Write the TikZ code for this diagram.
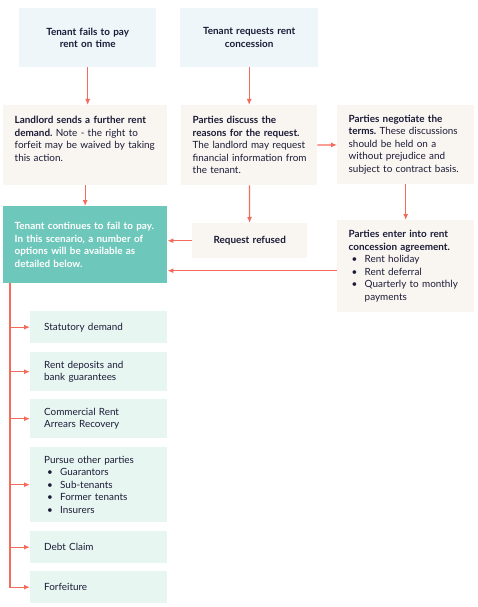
\documentclass[tikz,border=0pt]{standalone}
\usepackage{fontspec}
\setmainfont{Lato}
\usetikzlibrary{arrows.meta}
\definecolor{ink}{HTML}{1B1B36}
\definecolor{skyfill}{HTML}{EEF6FA}
\definecolor{creamfill}{HTML}{F9F6F1}
\definecolor{mintfill}{HTML}{E8F6F2}
\definecolor{tealfill}{HTML}{6DC7BA}
\definecolor{coral}{HTML}{F46A5B}
\newcommand{\itm}[1]{\makebox[16pt][l]{\hspace{3pt}\textbullet}#1}
\frenchspacing

\begin{document}
\begin{tikzpicture}[x=1pt,y=-1pt,font=\fontsize{9.9}{12.5}\selectfont,text=ink]
\tikzstyle{box}=[rectangle,anchor=north west,inner xsep=11.5pt,inner ysep=0pt,align=left]
\tikzstyle{start box}=[box,fill=skyfill,align=center,font=\fontsize{9.9}{12.5}\selectfont\bfseries]
\tikzstyle{step box}=[box,fill=creamfill]
\tikzstyle{option box}=[box,fill=mintfill,inner xsep=14pt,minimum width=137pt,text width=109pt]
\tikzstyle{arr}=[draw=coral,line width=1.2pt,-{Latex[length=6pt,width=5pt]}]
\useasboundingbox (0,0) rectangle (478,607);

% The two starting points
\node[start box,minimum width=137pt,minimum height=59pt,text width=114pt] (fail) at (19,8)
  {Tenant fails to pay\\rent on time};
\node[start box,minimum width=138pt,minimum height=59pt,text width=115pt] (req) at (180,8)
  {Tenant requests rent\\concession};

% Second row
\node[step box,minimum width=164pt,minimum height=80pt,text width=141pt] (demand) at (3,105)
  {\textbf{Landlord sends a further rent}\\\textbf{demand.} Note - the right to\\\mbox{forfeit may be waived by taking}\\this action.\\\mbox{}};
\node[step box,minimum width=136pt,minimum height=80pt,text width=113pt] (discuss) at (181,105)
  {\textbf{Parties discuss the}\\\textbf{reasons for the request.}\\The landlord may request\\\mbox{financial information from}\\the tenant.};
\node[step box,minimum width=137pt,minimum height=79pt,text width=114pt] (negot) at (337,105)
  {\textbf{Parties negotiate the}\\\textbf{terms.} These discussions\\should be held on a\\without prejudice and\\\mbox{subject to contract basis.}};

% Third row
\node[box,fill=tealfill,text=white,font=\fontsize{9.9}{12.5}\selectfont\bfseries,
  minimum width=164pt,minimum height=77pt,text width=141pt] (cont) at (3,206)
  {\mbox{Tenant continues to fail to pay.}\\In this scenario, a number of\\options will be available as\\detailed below.};
\node[step box,align=center,font=\fontsize{9.9}{12.5}\selectfont\bfseries,
  minimum width=115pt,minimum height=35pt,text width=92pt] (refused) at (192,223)
  {Request refused};
\node[step box,minimum width=137pt,minimum height=92pt,text width=114pt] (agree) at (337,220)
  {\textbf{Parties enter into rent}\\\textbf{concession agreement.}\\\itm{Rent holiday}\\\itm{Rent deferral}\\\itm{Quarterly to monthly}\\\hspace*{16pt}payments};

% Draw the option nodes
\foreach \name/\y/\h/\txt in {sd/311/32/{Statutory demand},
  rd/352/39/{Rent deposits and\\bank guarantees},
  cr/399/39/{Commercial Rent\\Arrears Recovery},
  po/447/75/{Pursue other parties\\\itm{Guarantors}\\\itm{Sub-tenants}\\\itm{Former tenants}\\\itm{Insurers}},
  dc/531/32/{Debt Claim},
  ff/571/32/{Forfeiture}}
\node[option box,minimum height=\h pt] (\name) at (30,\y) {\txt};

% Connect the boxes
\draw[arr] (fail) -- (demand.north -| fail);
\draw[arr] (req) -- (discuss.north -| req);
\draw[arr] (discuss) -- (negot);
\draw[arr] (demand) -- (cont.north -| demand);
\draw[arr] (discuss) -- (refused);
\draw[arr] (negot) -- (agree.north -| negot);
\draw[arr] (refused) -- (cont.east |- refused);
\coordinate (back) at ([yshift=-26pt]cont.east);
\draw[arr] (back -| agree.west) -- (back);

% Branch from the teal box to every option
\coordinate (trunk) at ([xshift=7pt]cont.south west);
\foreach \name in {sd,rd,cr,po,dc,ff}
\draw[arr] (trunk) |- (\name.west);
\end{tikzpicture}
\end{document}
